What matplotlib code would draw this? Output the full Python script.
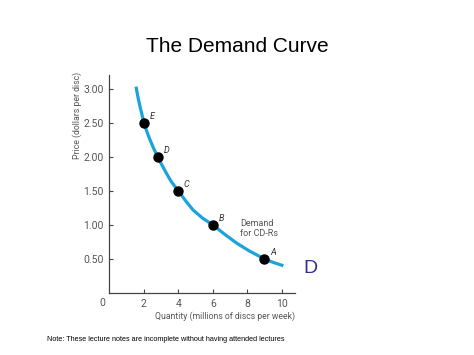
import matplotlib.pyplot as plt

# demand curve
curve_q = [1.54, 1.65, 1.77, 2.0, 2.17, 2.35, 2.57, 2.8, 3.0, 3.3, 3.6, 4.0,
           4.4, 4.85, 5.4, 6.0, 6.7, 7.4, 8.1, 9.0, 9.5, 10.1]
curve_p = [3.03, 2.88, 2.74, 2.5, 2.37, 2.25, 2.12, 2.0, 1.9, 1.76, 1.63, 1.5,
           1.36, 1.22, 1.1, 1.0, 0.86, 0.73, 0.62, 0.5, 0.45, 0.40]

# labelled points
point_names = ['E', 'D', 'C', 'B', 'A']
point_q = [2.0, 2.8, 4.0, 6.0, 9.0]
point_p = [2.5, 2.0, 1.5, 1.0, 0.5]

x_ticks = [2, 4, 6, 8, 10]
y_ticks = [0.5, 1.0, 1.5, 2.0, 2.5, 3.0]
y_tick_labels = ['0.50', '1.00', '1.50', '2.00', '2.50', '3.00']

grey = '#555555'
plt.rcParams['font.family'] = ['Roboto', 'DejaVu Sans']
plt.rcParams['font.stretch'] = 'condensed'

fig = plt.figure(figsize=(4.74, 3.55), dpi=100)
ax = fig.add_axes([0.2310, 0.1746, 0.3905, 0.6141])

ax.plot(curve_q, curve_p, color='#1ba3dc', lw=2.3, solid_capstyle='butt', zorder=2)
ax.plot(point_q, point_p, 'o', color='black', ms=6.5, zorder=3)
for name, q, p in zip(point_names, point_q, point_p):
    ax.annotate(name, (q, p), xytext=(4, 3), textcoords='offset points',
                fontsize=6.5, style='italic', color='#333333')

ax.text(7.6, 1.08, 'Demand\nfor CD-Rs', fontsize=6.5, color=grey,
        va='top', ha='left', linespacing=1.15)

ax.set_xlim(0, 10.75)
ax.set_ylim(0, 3.2)
ax.set_xticks(x_ticks)
ax.set_xticklabels([str(t) for t in x_ticks])
ax.set_yticks(y_ticks)
ax.set_yticklabels(y_tick_labels)
ax.tick_params(direction='in', length=3, width=0.8, colors='#444444',
               labelsize=7.5, labelcolor=grey, pad=4)
for side in ['top', 'right']:
    ax.spines[side].set_visible(False)
for side in ['left', 'bottom']:
    ax.spines[side].set_color('#444444')
    ax.spines[side].set_linewidth(0.9)

ax.text(-0.25, -0.08, '0', fontsize=7.5, color=grey, ha='right', va='top')
ax.set_xlabel('Quantity (millions of discs per week)', fontsize=6.2, color=grey,
              labelpad=2, loc='right')
ax.set_ylabel('Price (dollars per disc)', fontsize=6.3, color=grey)
ax.yaxis.set_label_coords(-0.15, 0.815)

fig.text(0.5, 0.854, 'The Demand Curve', fontsize=15, ha='center', va='baseline',
         family=['Liberation Sans'], stretch='normal')
fig.text(0.639, 0.231, 'D', fontsize=14, color='#2e3192', ha='left', va='baseline',
         family=['Liberation Sans'], stretch='normal')
fig.text(0.099, 0.039, 'Note: These lecture notes are incomplete without having attended lectures',
         fontsize=5.25, ha='left', va='baseline', family=['Liberation Sans'],
         stretch='normal')

fig.savefig('out.png', dpi=100)
